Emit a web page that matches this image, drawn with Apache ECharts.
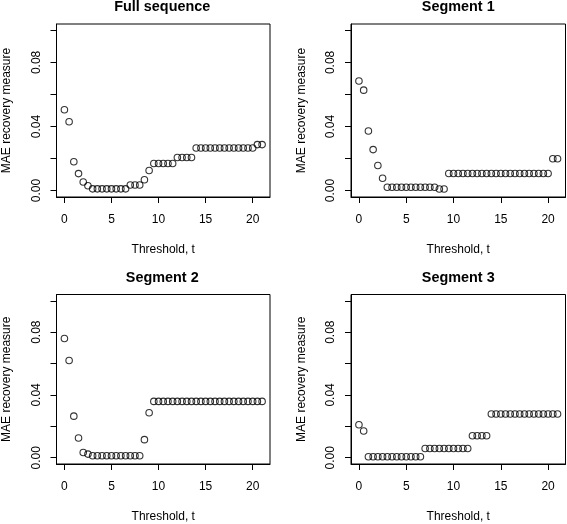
<!DOCTYPE html>
<html><head><meta charset="utf-8">
<script src="https://cdn.jsdelivr.net/npm/echarts@6/dist/echarts.min.js"></script>
<style>html,body{margin:0;padding:0;background:#fff}#c{width:567px;height:524px}</style>
</head><body><div id="c"></div>
<script>
const thresholds = [0,0.5,1,1.5,2,2.5,3,3.5,4,4.5,5,5.5,6,6.5,7,7.5,8,8.5,9,9.5,10,10.5,11,11.5,12,12.5,13,13.5,14,14.5,15,15.5,16,16.5,17,17.5,18,18.5,19,19.5,20,20.5,21];
const fullSequence = [0.0505,0.043,0.018,0.0106,0.0054,0.003,
  0.0011,0.0011,0.0011,0.0011,0.0011,0.0011,0.0011,0.0011,
  0.0035,0.0035,0.0035,0.0068,0.0125,
  0.0169,0.0169,0.0169,0.0169,0.0169,
  0.0207,0.0207,0.0207,0.0207,
  0.0266,0.0266,0.0266,0.0266,0.0266,0.0266,0.0266,0.0266,0.0266,0.0266,0.0266,0.0266,0.0266,
  0.0287,0.0287];
const segment1 = [0.0684,0.0627,0.0372,0.0256,0.0157,0.0077,
  0.0021,0.0021,0.0021,0.0021,0.0021,0.0021,0.0021,0.0021,0.0021,0.0021,0.0021,
  0.0010,0.0010,
  0.0107,0.0107,0.0107,0.0107,0.0107,0.0107,0.0107,0.0107,0.0107,0.0107,0.0107,
  0.0107,0.0107,0.0107,0.0107,0.0107,0.0107,0.0107,0.0107,0.0107,0.0107,0.0107,
  0.0199,0.0199];
const segment2 = [0.076,0.0619,0.0265,0.0126,0.0033,0.0023,
  0.0013,0.0013,0.0013,0.0013,0.0013,0.0013,0.0013,0.0013,0.0013,0.0013,0.0013,
  0.0115,0.0287,
  0.0359,0.0359,0.0359,0.0359,0.0359,0.0359,0.0359,0.0359,0.0359,0.0359,0.0359,0.0359,
  0.0359,0.0359,0.0359,0.0359,0.0359,0.0359,0.0359,0.0359,0.0359,0.0359,0.0359,0.0359];
const segment3 = [0.021,0.017,
  0.0006,0.0006,0.0006,0.0006,0.0006,0.0006,0.0006,0.0006,0.0006,0.0006,0.0006,0.0006,
  0.0059,0.0059,0.0059,0.0059,0.0059,0.0059,0.0059,0.0059,0.0059,0.0059,
  0.014,0.014,0.014,0.014,
  0.0279,0.0279,0.0279,0.0279,0.0279,0.0279,0.0279,0.0279,0.0279,0.0279,0.0279,0.0279,0.0279,0.0279,0.0279];
const panelTitles = ['Full sequence','Segment 1','Segment 2','Segment 3'];
const xTicks = [0,5,10,15,20];
const yTicks = [0,0.02,0.04,0.06,0.08,0.1];
const yTickLabels = [0,0.04,0.08];
const xName = 'Threshold, t';
const yName = 'MAE recovery measure';

const panelData = [fullSequence, segment1, segment2, segment3];
const FONT = 'Liberation Sans, Arial, Helvetica, sans-serif';
const boxes = [
  {left:54.5, top:24, width:215.5, height:173},
  {left:351, top:24, width:214.5, height:173},
  {left:54.5, top:294.5, width:215.5, height:173},
  {left:351, top:294.5, width:214.5, height:173}
];

const chart = echarts.init(document.getElementById('c'), null, {renderer:'canvas'});
const option = {
  animation:false,
  backgroundColor:'#fff',
  grid: boxes.map(b => ({left:b.left, top:b.top, width:b.width, height:b.height, show:true, borderColor:'#000', borderWidth:1, backgroundColor:'transparent', containLabel:false})),
  xAxis: boxes.map((b,i) => ({
    type:'value', gridIndex:i, min:-0.84, max:21.84, position:'bottom',
    axisLine:{show:true, onZero:false, lineStyle:{color:'#000', width:1}},
    axisTick:{show:true, inside:false, length:6, lineStyle:{color:'#000', width:1}, customValues:xTicks},
    axisLabel:{show:true, margin:17, fontSize:12, fontFamily:FONT, color:'#000', customValues:xTicks},
    splitLine:{show:false},
    name:xName, nameLocation:'middle', nameGap:47,
    nameTextStyle:{fontSize:12, fontFamily:FONT, color:'#000'}
  })),
  yAxis: boxes.map((b,i) => ({
    type:'value', gridIndex:i, min:-0.004, max:0.104, position:'left',
    axisLine:{show:true, onZero:false, lineStyle:{color:'#000', width:1}},
    axisTick:{show:true, inside:false, length:6, lineStyle:{color:'#000', width:1}, customValues:yTicks},
    axisLabel:{show:true, rotate:90, margin:14, fontSize:12, fontFamily:FONT, color:'#000', customValues:yTickLabels,
      formatter: v => Number(v).toFixed(2)},
    splitLine:{show:false},
    name:yName, nameLocation:'middle', nameGap:43.5,
    nameTextStyle:{fontSize:12, fontFamily:FONT, color:'#000'}
  })),
  series: panelData.map((d,i) => ({
    type:'scatter', xAxisIndex:i, yAxisIndex:i, silent:true,
    symbol:'circle', symbolSize:6.5,
    itemStyle:{color:'transparent', borderColor:'#000', borderWidth:1.1},
    data: thresholds.map((t,k) => [t, d[k]])
  })),
  graphic: boxes.map((b,i) => ({
    type:'text', x: b.left + b.width/2, y: b.top - 23.5, silent:true,
    style:{text:panelTitles[i], fill:'#000', font:'bold 14.4px ' + FONT, textAlign:'center', textVerticalAlign:'top'}
  }))
};
chart.setOption(option);
</script>
</body></html>
